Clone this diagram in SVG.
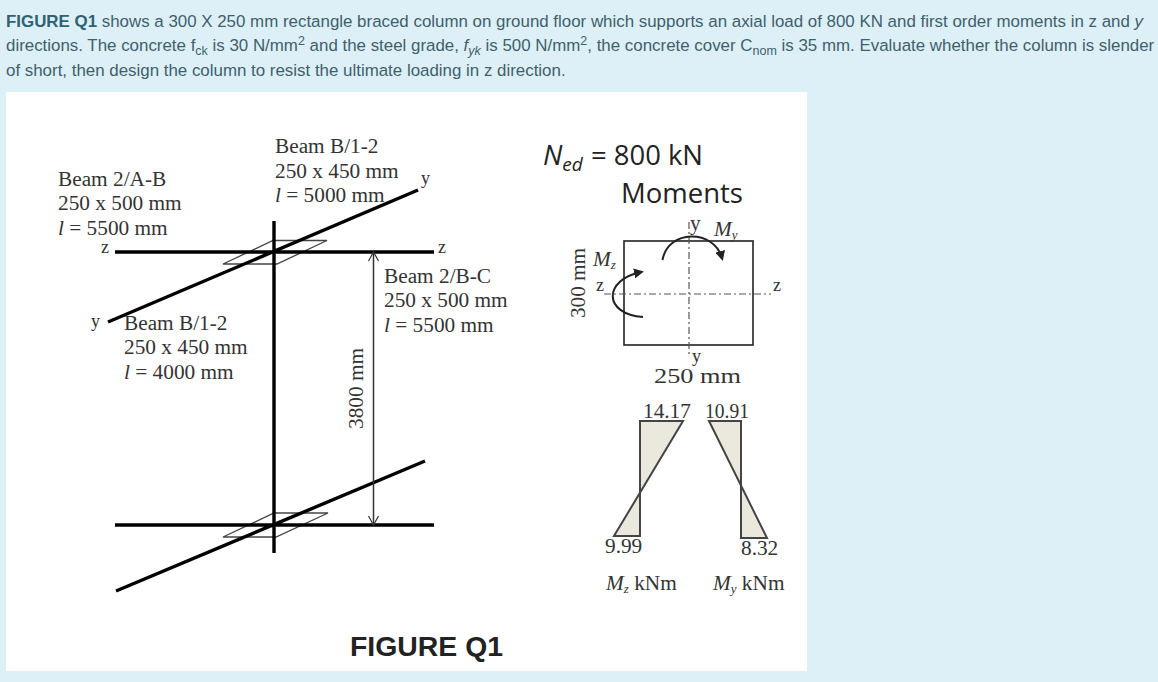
<svg xmlns="http://www.w3.org/2000/svg" width="1158" height="682" viewBox="0 0 1158 682">
<style>
.p{font-family:"Liberation Sans",Arial,sans-serif;font-size:16.9px;fill:#3f5f6d}
.b{font-weight:bold;fill:#2f6272}
.s{font-size:12.500px}
.t{font-family:"Liberation Serif","Times New Roman",serif;font-size:21.300px;fill:#333}
.a{font-size:18px}
.c{font-family:"Open Sans","Noto Sans",sans-serif;font-size:27.500px;fill:#222}
.h{stroke:#000;stroke-width:3.4;fill:none}
.m{stroke:#444;stroke-width:1.3;fill:none}
.d{stroke:#333;stroke-width:1.5;fill:none}
.dd{stroke:#555;stroke-width:1.2;stroke-dasharray:7 3 2 3;fill:none}
.f{fill:#ebe9dd;stroke:#444;stroke-width:2}
.arc{fill:none;stroke:#222;stroke-width:2}
</style>
<defs>
<marker id="open" markerWidth="12" markerHeight="12" refX="10" refY="6" orient="auto-start-reverse" markerUnits="userSpaceOnUse"><path d="M1 1L10 6L1 11" fill="none" stroke="#333" stroke-width="1.2"/></marker>
<marker id="solid" markerWidth="12" markerHeight="10" refX="7" refY="5" orient="auto" markerUnits="userSpaceOnUse"><path d="M0 0L10 5L0 10Z" fill="#222"/></marker>
</defs>
<rect width="1158" height="682" fill="#ddf0f7"/>
<rect x="6" y="92" width="801" height="579" fill="#fff"/>
<g id="question">
<text class="p" x="6" y="26.500"><tspan class="b">FIGURE Q1</tspan> shows a 300 X 250 mm rectangle braced column on ground floor which supports an axial load of 800 KN and first order moments in z and <tspan font-style="italic">y</tspan></text>
<text class="p" x="6" y="51">directions. The concrete f<tspan class="s" dy="4">ck</tspan><tspan dy="-4"> is 30 N/mm</tspan><tspan class="s" dy="-6">2</tspan><tspan dy="6"> and the steel grade, </tspan><tspan font-style="italic">f</tspan><tspan class="s" dy="4" font-style="italic">yk</tspan><tspan dy="-4"> is 500 N/mm</tspan><tspan class="s" dy="-6">2</tspan><tspan dy="6">, the concrete cover C</tspan><tspan class="s" dy="4">nom</tspan><tspan dy="-4"> is 35 mm. Evaluate whether the column is slender</tspan></text>
<text class="p" x="6" y="76">of short, then design the column to resist the ultimate loading in z direction.</text>
</g>
<g id="frame-connectors">
<path class="m" d="M223 264L273 240.5H327L277 264ZM223 537L274 513H328L276 537Z"/>
<path class="h" d="M274 221V553M115 252H434M115 525H434M108 322L418 190M116 591L425 461"/>
<path class="d" d="M373.500 252V525" marker-start="url(#open)" marker-end="url(#open)"/>
</g>
<g id="beam-top"><text class="t" x="275" y="153">Beam B/1-2</text><text class="t" x="275" y="178">250 x 450 mm</text><text class="t" x="275" y="202"><tspan font-style="italic">l</tspan> = 5000 mm</text></g>
<g id="beam-left"><text class="t" x="58" y="186">Beam 2/A-B</text><text class="t" x="58" y="210">250 x 500 mm</text><text class="t" x="58" y="235"><tspan font-style="italic">l</tspan> = 5500 mm</text></g>
<g id="beam-right"><text class="t" x="384" y="283">Beam 2/B-C</text><text class="t" x="384" y="307">250 x 500 mm</text><text class="t" x="384" y="332"><tspan font-style="italic">l</tspan> = 5500 mm</text></g>
<g id="beam-bottom"><text class="t" x="124" y="330">Beam B/1-2</text><text class="t" x="124" y="354">250 x 450 mm</text><text class="t" x="124" y="379"><tspan font-style="italic">l</tspan> = 4000 mm</text></g>
<g id="axis-labels"><text class="t a" x="421" y="184">y</text><text class="t a" x="101" y="253">z</text><text class="t a" x="438" y="253">z</text><text class="t a" x="91" y="327">y</text></g>
<text class="t" transform="translate(363 429) rotate(-90)">3800 mm</text>
<text id="figure-title" x="350" y="656" font-family="Liberation Sans,Arial,sans-serif" font-weight="bold" font-size="28.400" fill="#222">FIGURE Q1</text>
<g id="loads">
<text class="c" x="543" y="165" font-style="italic">N<tspan font-size="19" dy="6">ed</tspan></text>
<text class="c" x="591" y="165" textLength="112" lengthAdjust="spacingAndGlyphs">= 800 kN</text>
<text class="c" x="621" y="203">Moments</text>
</g>
<g id="section">
<rect x="624" y="241" width="129" height="104" fill="none" stroke="#222" stroke-width="1.600"/>
<path class="dd" d="M604 294H771M689 222V356"/>
<path class="arc" d="M662.500 260C668 229 714 229 722 258" marker-end="url(#solid)"/>
<path class="arc" d="M643 317C603 314 603 280 641 272" marker-end="url(#solid)"/>
<text class="t" x="690" y="230">y</text>
<text class="t" x="714" y="236" font-style="italic">M<tspan font-size="13" dy="3">y</tspan></text>
<text class="t" x="593" y="266" font-style="italic">M<tspan font-size="13" dy="3">z</tspan></text>
<text class="t a" x="596" y="291">z</text>
<text class="t a" x="773" y="291">z</text>
<text class="t a" x="692" y="362">y</text>
<text class="t" x="654" y="383" textLength="87" lengthAdjust="spacingAndGlyphs">250 mm</text>
<text class="t" transform="translate(585 318) rotate(-90)" textLength="70" lengthAdjust="spacingAndGlyphs">300 mm</text>
</g>
<g id="moment-diagram-z">
<path class="f" d="M640 421H683L614 536H640Z"/>
<text class="t" x="643" y="418">14.17</text>
<text class="t" x="605" y="553">9.99</text>
<text class="t" x="606" y="590"><tspan font-style="italic">M<tspan font-size="13" dy="3">z</tspan></tspan><tspan dy="-3"> kNm</tspan></text>
</g>
<g id="moment-diagram-y">
<path class="f" d="M709 421H741V538H767Z"/>
<text class="t" x="705" y="418" textLength="44" lengthAdjust="spacingAndGlyphs">10.91</text>
<text class="t" x="741" y="555">8.32</text>
<text class="t" x="713" y="590"><tspan font-style="italic">M<tspan font-size="13" dy="3">y</tspan></tspan><tspan dy="-3"> kNm</tspan></text>
</g>
</svg>
